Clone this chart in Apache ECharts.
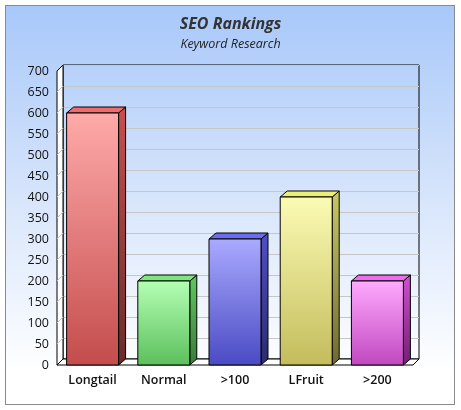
<!DOCTYPE html>
<html>
<head>
<meta charset="utf-8">
<script src="https://cdn.jsdelivr.net/npm/echarts@6/dist/echarts.min.js"></script>
<style>
  html, body { margin: 0; padding: 0; background: #fff; }
  #frame {
    position: absolute; left: 5px; top: 5px; width: 448px; height: 398px;
    border: 1px solid #8a8a8a;
    background: linear-gradient(to bottom, #a8c8fa 0%, #d4e3fb 45%, #ffffff 92%);
  }
  #main { position: absolute; left: 0; top: 0; width: 461px; height: 410px; }
</style>
</head>
<body>
<div id="frame"></div>
<div id="main"></div>
<script type="text/javascript">
  var categories = ['Longtail', 'Normal', '>100', 'LFruit', '>200'];
  var values = [600, 200, 300, 400, 200];
  var yTicks = [0, 50, 100, 150, 200, 250, 300, 350, 400, 450, 500, 550, 600, 650, 700];

  // bar face colours: front gradient, side gradient, top face
  var frontTop = ['#ffaaaa', '#b4ffb4', '#aaaaff', '#fbfbb4', '#ffaaff'];
  var frontBottom = ['#c44c4c', '#5cbf5c', '#4a4ac4', '#c4bc5c', '#c048c0'];
  var sideTop = ['#c85050', '#60c860', '#5050c8', '#c8c868', '#d050d0'];
  var sideBottom = ['#6a2a2a', '#3a7a3a', '#2a2a6a', '#6e6a30', '#702070'];
  var topColor = ['#ee6c6c', '#7ce87c', '#6c6cee', '#eeee74', '#ee6cee'];

  var depth = 6;
  var barDepth = 7;
  var myChart = echarts.init(document.getElementById('main'));

  function grad(top, bottom) {
    return new echarts.graphic.LinearGradient(0, 0, 0, 1, [
      { offset: 0, color: top }, { offset: 1, color: bottom }
    ]);
  }

  var option = {
    backgroundColor: 'transparent',
    animation: false,
    title: {
      text: 'SEO Rankings',
      subtext: 'Keyword Research',
      left: 'center',
      top: 11,
      itemGap: 6,
      textStyle: { fontFamily: 'Open Sans', fontSize: 16, fontWeight: 'bold', fontStyle: 'italic', color: '#333' },
      subtextStyle: { fontFamily: 'Open Sans', fontSize: 12.5, fontStyle: 'italic', color: '#222' }
    },
    grid: [
      { left: 57, right: 48, top: 71, bottom: 45 },
      { left: 63, right: 42, top: 65, bottom: 51, show: true, borderColor: '#000', borderWidth: 1, backgroundColor: 'transparent' }
    ],
    xAxis: [
      {
        type: 'category', gridIndex: 0, data: categories,
        axisLine: { show: false }, axisTick: { show: false },
        axisLabel: { margin: 9, color: '#111', fontFamily: 'Open Sans', fontSize: 12.5, fontWeight: 600 }
      },
      {
        type: 'category', gridIndex: 1, data: categories, show: false
      }
    ],
    yAxis: [
      {
        type: 'value', gridIndex: 0, min: 0, max: 700, interval: 50,
        axisLine: { show: true, lineStyle: { color: '#000' } },
        axisTick: { show: false }, splitLine: { show: false },
        axisLabel: { margin: 8, color: '#111', fontFamily: 'Open Sans', fontSize: 12.5 }
      },
      {
        type: 'value', gridIndex: 1, min: 0, max: 700, interval: 50,
        axisLine: { show: false }, axisTick: { show: false }, axisLabel: { show: false },
        splitLine: { show: true, lineStyle: { color: '#c6c6c6' } }
      }
    ],
    series: [
      {
        type: 'custom',
        name: 'frame',
        xAxisIndex: 0, yAxisIndex: 0,
        silent: true,
        z: 1,
        data: [[0, 0]],
        renderItem: function (params, api) {
          var band = api.size([1, 0])[0];
          var x0 = api.coord([0, 0])[0] - band / 2;
          var x1 = api.coord([categories.length - 1, 0])[0] + band / 2;
          var yb = api.coord([0, yTicks[0]])[1];
          var yt = api.coord([0, yTicks[yTicks.length - 1]])[1];
          var children = [
            { type: 'polygon', shape: { points: [[x0, yb], [x1, yb], [x1 + depth, yb - depth], [x0 + depth, yb - depth]] },
              style: { fill: '#fff', stroke: '#000', lineWidth: 1 } },
            { type: 'polygon', shape: { points: [[x0, yb], [x0, yt], [x0 + depth, yt - depth], [x0 + depth, yb - depth]] },
              style: { fill: '#fff', stroke: '#000', lineWidth: 1 } }
          ];
          // slanted gridlines on the left wall
          for (var i = 1; i < yTicks.length - 1; i++) {
            var y = api.coord([0, yTicks[i]])[1];
            children.push({ type: 'line', shape: { x1: x0, y1: y, x2: x0 + depth, y2: y - depth },
              style: { stroke: '#c6c6c6', lineWidth: 1 } });
          }
          return { type: 'group', children: children };
        }
      },
      {
        type: 'custom',
        name: 'bars',
        xAxisIndex: 0, yAxisIndex: 0,
        z: 3,
        data: values.map(function (v, i) { return [i, v]; }),
        renderItem: function (params, api) {
          var i = api.value(0);
          var p = api.coord([i, api.value(1)]);
          var p0 = api.coord([i, 0]);
          var w = api.size([1, 0])[0] * 0.73;
          var x = p[0] - w / 2, yT = p[1], yB = p0[1];
          var dx = barDepth, dy = depth;
          return {
            type: 'group',
            children: [
              { type: 'polygon', shape: { points: [[x + w, yT], [x + w + dx, yT - dy], [x + w + dx, yB - dy], [x + w, yB]] },
                style: { fill: grad(sideTop[i], sideBottom[i]), stroke: '#000', lineWidth: 1 } },
              { type: 'polygon', shape: { points: [[x, yT], [x + dx, yT - dy], [x + w + dx, yT - dy], [x + w, yT]] },
                style: { fill: topColor[i], stroke: '#000', lineWidth: 1 } },
              { type: 'rect', shape: { x: x, y: yT, width: w, height: yB - yT },
                style: { fill: grad(frontTop[i], frontBottom[i]), stroke: '#000', lineWidth: 1 } }
            ]
          };
        }
      }
    ]
  };

  myChart.setOption(option);
</script>
</body>
</html>
